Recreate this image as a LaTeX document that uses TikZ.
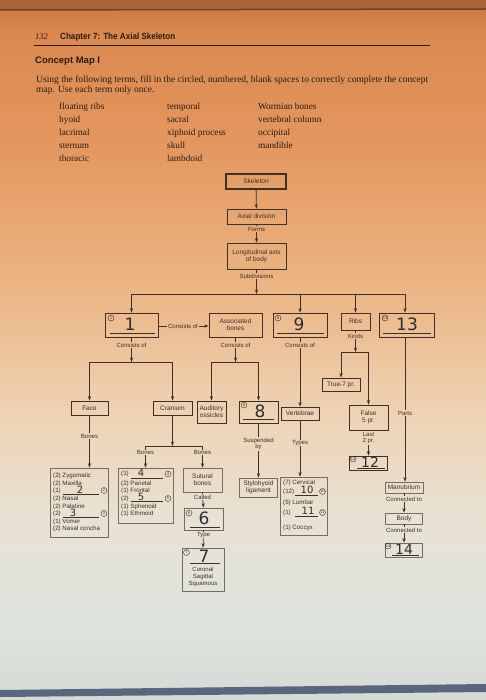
\documentclass[tikz,border=0pt]{standalone}
\usepackage{fontspec}
\setmainfont{Liberation Serif}
\setsansfont{Liberation Sans}
\newfontfamily\handf{DejaVu Sans}
\usetikzlibrary{arrows.meta}
\definecolor{c0}{RGB}{200,118,62}
\definecolor{c1}{RGB}{218,136,78}
\definecolor{c2}{RGB}{228,152,96}
\definecolor{c3}{RGB}{236,184,136}
\definecolor{c4}{RGB}{238,212,182}
\definecolor{c5}{RGB}{232,226,212}
\definecolor{c6}{RGB}{224,228,222}
\definecolor{c7}{RGB}{214,218,214}
\definecolor{lc}{RGB}{62,48,40}
\definecolor{lc2}{RGB}{112,108,104}
\definecolor{tc}{RGB}{58,48,42}
\definecolor{hd}{RGB}{40,28,20}
\definecolor{hc}{RGB}{45,45,52}
\definecolor{band}{RGB}{88,102,126}
\definecolor{edge}{RGB}{105,70,48}
\pgfdeclareverticalshading{bgshade}{100bp}{color(0bp)=(c7); color(25bp)=(c7); color(30.71bp)=(c6); color(37.86bp)=(c5); color(45bp)=(c4); color(53.57bp)=(c3); color(64.29bp)=(c2); color(72.86bp)=(c1); color(75bp)=(c0); color(100bp)=(c0)}
\tikzset{
 box/.style={draw=lc, line width=0.7pt, inner sep=0pt, font=\sffamily\fontsize{6.5}{7.2}\selectfont, text=tc, align=center},
 lbox/.style={box, draw=lc2, line width=0.6pt},
 lbl/.style={font=\sffamily\fontsize{6}{6.6}\selectfont, text=tc, inner sep=0.6pt, align=center},
 ln/.style={draw=lc, line width=0.8pt},
 arr/.style={ln, -{Stealth[length=4.5pt,width=3.2pt]}},
 row/.style={anchor=west, font=\sffamily\fontsize{6.2}{6.2}\selectfont, inner sep=0pt, text=tc},
 crow/.style={font=\sffamily\fontsize{6}{6}\selectfont, inner sep=0pt, text=tc},
 cnum/.style={circle, draw=tc, line width=0.4pt, inner sep=0pt, minimum size=6pt, font=\sffamily\fontsize{4}{4}\selectfont, text=tc},
 hwbig/.style={font=\handf\fontsize{17}{17}\selectfont, text=hc, inner sep=0pt},
 hwmid/.style={font=\handf\fontsize{14}{14}\selectfont, text=hc, inner sep=0pt},
 hwsm/.style={font=\handf\fontsize{10}{10}\selectfont, text=hc, inner sep=0pt},
 blank/.style={draw=tc, line width=0.5pt},
 hdr/.style={anchor=base west, inner sep=0pt, text=hd},
 term/.style={hdr, font=\rmfamily\fontsize{9.3}{9.3}\selectfont},
}
\begin{document}
\begin{tikzpicture}[x=1pt,y=-1pt]
\useasboundingbox (0,0) rectangle (486,700);
\shade[shading=bgshade] (0,0) rectangle (486,700);
\fill[c0!85!black] (0,0) rectangle (486,9);
\draw[edge, line width=1.5pt] (0,10) -- (486,9);
\fill[band] (0,690) -- (486,684) -- (486,692) -- (0,697) -- cycle;

% header
\node[hdr, font=\rmfamily\itshape\fontsize{8.5}{8.5}\selectfont] (pg) at (35,40) {132};
\node[hdr] (ch) at (60,40) {\scalebox{0.9}[1]{\sffamily\bfseries\fontsize{9}{9}\selectfont Chapter 7: The Axial Skeleton}};
\draw[hd, line width=0.9pt] (34,45) -- (430,45);
\node[hdr, font=\sffamily\bfseries\fontsize{9.5}{9.5}\selectfont] (cm) at (35,64) {Concept Map I};
\node[hdr, font=\rmfamily\fontsize{9.5}{9.5}\selectfont] (in1) at (36,83) {Using the following terms, fill in the circled, numbered, blank spaces to correctly complete the concept};
\node[hdr, font=\rmfamily\fontsize{9.5}{9.5}\selectfont] (in2) at (36,92.5) {map. Use each term only once.};
\foreach \t [count=\i] in {floating ribs, hyoid, lacrimal, sternum, thoracic}
  \node[term] (ta\i) at (59,97+13*\i) {\t};
\foreach \t [count=\i] in {temporal, sacral, xiphoid process, skull, lambdoid}
  \node[term] (tb\i) at (167,97+13*\i) {\t};
\foreach \t [count=\i] in {Wormian bones, vertebral column, occipital, mandible}
  \node[term] (tc\i) at (258,97+13*\i) {\t};

% top chain
\node[box, line width=1.5pt, minimum width=60pt, minimum height=15pt] (skel) at (256,181.5) {Skeleton};
\node[box, minimum width=59pt, minimum height=15pt] (axial) at (256.5,216.5) {Axial division};
\node[lbl] (forms) at (256.5,229) {Forms};
\node[box, minimum width=59pt, minimum height=26pt] (longi) at (256.5,256) {Longitudinal axis\\of body};
\node[lbl] (subd) at (256.5,276) {Subdivisions};
\coordinate (j0) at (256.5,294);
\coordinate (jL) at (131.5,294);
\coordinate (j9) at (300,294);
\coordinate (jr) at (355.5,294);
\coordinate (jR) at (405,294);
\draw[arr] (skel) -- (axial);
\draw[ln] (axial) -- (forms);
\draw[arr] (forms) -- (longi);
\draw[ln] (longi) -- (subd);
\draw[arr] (subd) -- (j0);
\draw[ln] (jL) -- (jR);

% second row
\node[box, minimum width=53pt, minimum height=24pt] (b1) at (131.5,325) {};
\node[box, minimum width=53pt, minimum height=24pt] (assoc) at (235.5,325) {Associated\\bones};
\node[box, minimum width=54pt, minimum height=24pt] (b9) at (300,325) {};
\node[box, minimum width=29pt, minimum height=17pt] (ribs) at (355.5,321.5) {Ribs};
\node[box, minimum width=55pt, minimum height=24pt] (b13) at (406.5,325) {};
\draw[arr] (jL) -- (b1.north);
\draw[arr] (j9) -- (b9.north);
\draw[arr] (jr) -- (ribs.north);
\draw[arr] (jR) -- (jR |- b13.north);

\node[cnum] (n1) at (111,318) {1};
\node[hwbig] (h1) at (130,324) {1};
\draw[blank] (110,333) -- (155,333);
\node[cnum] (n9) at (278,318) {9};
\node[hwbig] (h9) at (299,324) {9};
\draw[blank] (277,333) -- (324,333);
\node[cnum] (n13) at (385,318) {13};
\node[hwbig] (h13) at (407,324) {13};
\draw[blank] (383,333) -- (431,333);

\node[lbl] (co1) at (183,326) {Consists of};
\draw[ln] (b1.east |- co1) -- (co1.west);
\draw[arr] (co1.east) -- (assoc.west |- co1);
\node[lbl] (co2) at (131.5,345) {Consists of};
\node[lbl] (co3) at (235.5,345) {Consists of};
\node[lbl] (co4) at (300,345) {Consists of};
\node[lbl] (kinds) at (355.5,336) {Kinds};

% third row
\coordinate (j1) at (131.5,362);
\coordinate (jFace) at (89.5,362);
\coordinate (jCran) at (172.5,362);
\coordinate (j2) at (235.5,362);
\coordinate (jAud) at (211.5,362);
\coordinate (j8) at (258.5,362);
\coordinate (jk) at (355.5,352);
\coordinate (jt) at (341,352);
\coordinate (jf) at (368.5,352);
\node[box, minimum width=37pt, minimum height=14pt] (face) at (89.5,408) {Face};
\node[box, minimum width=39pt, minimum height=14pt] (cran) at (172.5,408) {Cranium};
\node[box, minimum width=29pt, minimum height=22pt] (audit) at (211.5,412) {Auditory\\ossicles};
\node[box, minimum width=39pt, minimum height=22pt] (b8) at (258.5,412) {};
\node[box, minimum width=38pt, minimum height=13pt] (vert) at (300,413.5) {Vertebrae};
\node[box, minimum width=38pt, minimum height=13pt] (true7) at (341,384.5) {True-7 pr.};
\node[box, minimum width=39pt, minimum height=25pt] (false) at (368.5,417.5) {False\\5 pr.};
\node[lbl] (last) at (368.5,438) {Last\\2 pr.};
\node[box, minimum width=38pt, minimum height=14pt] (b12) at (368.5,463) {};
\node[lbl] (parts) at (405,413) {Parts};

\draw[ln] (b1) -- (co2);
\draw[arr] (co2) -- (j1);
\draw[ln] (jFace) -- (jCran);
\draw[arr] (jFace) -- (face.north);
\draw[arr] (jCran) -- (cran.north);
\draw[ln] (assoc) -- (co3);
\draw[arr] (co3) -- (j2);
\draw[ln] (jAud) -- (j8);
\draw[arr] (jAud) -- (audit.north);
\draw[arr] (j8) -- (b8.north);
\draw[ln] (b9) -- (co4);
\draw[arr] (co4) -- (vert.north);
\draw[ln] (ribs) -- (kinds);
\draw[arr] (kinds) -- (jk);
\draw[ln] (jt) -- (jf);
\draw[arr] (jt) -- (true7.north);
\draw[arr] (jf) -- (false.north);
\draw[ln] (false) -- (last);
\draw[arr] (last) -- (b12.north);
\draw[ln] (b13.south -| parts) -- (parts);

\node[cnum] (n8) at (244,405) {8};
\node[hwbig] (h8) at (260,411.5) {8};
\draw[blank] (243,419) -- (274,419);
\node[cnum] (n12) at (353,459) {12};
\node[hwmid] (h12) at (370,462.5) {12};
\draw[blank] (357,468) -- (385,468);

% fourth row labels
\node[lbl] (fbl) at (89.5,436) {Bones};
\coordinate (jc) at (172.5,446);
\coordinate (jc1) at (145.5,446);
\coordinate (jc2) at (202.5,446);
\node[lbl] (bl1) at (145.5,452.5) {Bones};
\node[lbl] (bl2) at (202.5,452.5) {Bones};
\node[lbl] (susp) at (258.5,444) {Suspended\\by};
\node[lbl] (types) at (300,443) {Types};
\draw[ln] (face) -- (fbl);
\draw[arr] (cran) -- (jc);
\draw[ln] (jc1) -- (jc2);
\draw[ln] (jc1) -- (bl1);
\draw[ln] (jc2) -- (bl2);
\draw[ln] (b8) -- (susp);
\draw[ln] (vert) -- (types);

% lower boxes
\node[lbox, minimum width=58pt, minimum height=69pt] (facebones) at (79,502.5) {};
\node[lbox, minimum width=55pt, minimum height=55pt] (cranbones) at (145.5,495.5) {};
\node[lbox, minimum width=39pt, minimum height=24pt] (sutural) at (202.5,480) {Sutural\\bones};
\node[lbl] (cal) at (202.5,497) {Called};
\node[lbox, minimum width=39pt, minimum height=22pt] (b6) at (203.5,519) {};
\node[lbl] (typ) at (203.5,535) {Type};
\node[lbox, minimum width=42pt, minimum height=43pt] (b7) at (203,569.5) {};
\node[lbox, minimum width=38pt, minimum height=19pt] (stylo) at (258.5,487.5) {Stylohyoid\\ligament};
\node[lbox, minimum width=47pt, minimum height=58pt] (vtypes) at (303.5,506) {};
\node[lbox, minimum width=38pt, minimum height=11pt] (manub) at (404,487.5) {Manubrium};
\node[lbl] (ct1) at (404,499) {Connected to};
\node[lbox, minimum width=37pt, minimum height=11pt] (body) at (404,518.5) {Body};
\node[lbl] (ct2) at (404,530) {Connected to};
\node[lbox, minimum width=37pt, minimum height=14pt] (b14) at (404,550) {};

\draw[arr] (fbl) -- (fbl |- facebones.north);
\draw[arr] (bl1) -- (cranbones.north);
\draw[arr] (bl2) -- (sutural.north);
\draw[ln] (sutural) -- (cal);
\draw[arr] (cal) -- (b6.north);
\draw[ln] (b6) -- (typ);
\draw[arr] (typ) -- (b7.north);
\draw[arr] (susp) -- (stylo.north);
\draw[arr] (types) -- (types |- vtypes.north);
\draw[arr] (parts) -- (parts |- manub.north);
\draw[ln] (manub) -- (ct1);
\draw[arr] (ct1) -- (body);
\draw[ln] (body) -- (ct2);
\draw[arr] (ct2) -- (b14);

% face bones contents
\node[row] (f1) at (53,476) {(2) Zygomatic};
\node[row] (f2) at (53,483.5) {(2) Maxilla};
\node[row] (f3) at (53,491) {(1)};
\node[hwsm] (h2) at (80,490) {2};
\draw[blank] (63,494.5) -- (99,494.5);
\node[cnum] (n2) at (104,490.5) {2};
\node[row] (f4) at (53,499) {(2) Nasal};
\node[row] (f5) at (53,506.5) {(2) Palatine};
\node[row] (f6) at (53,514) {(2)};
\node[hwsm] (h3) at (73,512.5) {3};
\draw[blank] (63,517) -- (99,517);
\node[cnum] (n3) at (104,513.5) {3};
\node[row] (f7) at (53,521.5) {(1) Vomer};
\node[row] (f8) at (53,529) {(2) Nasal concha};

% cranium bones contents
\node[row] (k1) at (121,474) {(1)};
\node[hwsm] (h4) at (141,472.5) {4};
\draw[blank] (131,478) -- (163,478);
\node[cnum] (n4) at (168,474) {4};
\node[row] (k2) at (121,483.5) {(2) Parietal};
\node[row] (k3) at (121,491) {(1) Frontal};
\node[row] (k4) at (121,499) {(2)};
\node[hwsm] (h5) at (141,497) {5};
\draw[blank] (131,501) -- (163,501);
\node[cnum] (n5) at (168,498.5) {5};
\node[row] (k5) at (121,506.5) {(1) Sphenoid};
\node[row] (k6) at (121,514) {(1) Ethmoid};

% box 6 and 7
\node[cnum] (n6) at (189,513) {6};
\node[hwbig] (h6) at (204,518.5) {6};
\draw[blank] (190,527) -- (220,527);
\node[cnum] (n7) at (186.5,552.5) {7};
\node[hwbig] (h7) at (204,556) {7};
\draw[blank] (190,563) -- (220,563);
\node[crow] (s1) at (203,569) {Coronal};
\node[crow] (s2) at (203,576.5) {Sagittal};
\node[crow] (s3) at (203,584) {Squamous};

% vertebral types contents
\node[row] (v1) at (283,483) {(7) Cervical};
\node[row] (v2) at (283,491.5) {(12)};
\node[hwsm] (h10) at (307,490) {10};
\draw[blank] (295,495) -- (318,495);
\node[cnum] (n10) at (322.5,491.5) {10};
\node[row] (v3) at (283,503) {(5) Lumbar};
\node[row] (v4) at (283,512.5) {(1)};
\node[hwsm] (h11) at (308,511) {11};
\draw[blank] (295,516) -- (318,516);
\node[cnum] (n11) at (322.5,512.5) {11};
\node[row] (v5) at (283,528) {(1) Coccyx};

% box 14
\node[cnum] (n14) at (388,546) {14};
\node[hwmid] (h14) at (404,549) {14};
\draw[blank] (392,555) -- (419,555);
\end{tikzpicture}
\end{document}
